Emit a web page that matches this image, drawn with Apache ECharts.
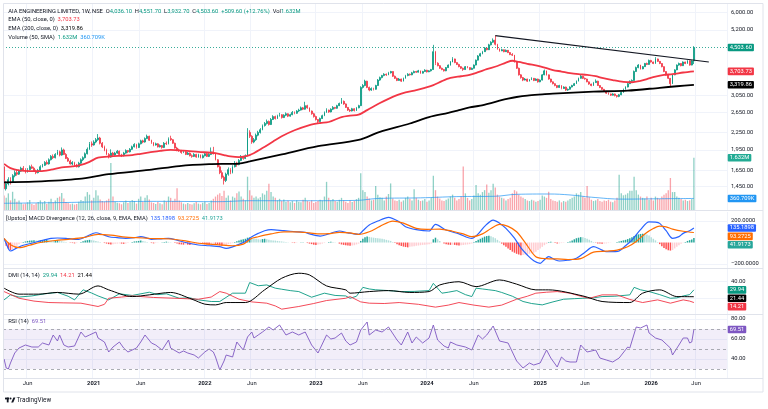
<!DOCTYPE html>
<html lang="en">

<head>
  <meta charset="UTF-8" />
  <title>AIA Engineering 1W</title>
  <script src="https://cdn.jsdelivr.net/npm/echarts@6/dist/echarts.min.js"></script>
</head>

<body style="margin:0;overflow:hidden;background:#fff;">
  <div id="panel" style="width:768px;height:409px;"></div>
  <script>
    // weekly bars, first one is the week of 16 Mar 2020
    var startDate = '2020-03-16';
    var totalWeeks = 339;
    var tickLabels = [[11, 'Jun'], [42, '2021'], [64, 'Jun'], [94, '2022'], [116, 'Jun'], [146, '2023'], [168, 'Jun'],
      [198, '2024'], [220, 'Jun'], [251, '2025'], [272, 'Jun'], [303, '2026'], [324, 'Jun']];

    // [open, high, low, close]
    var candles = [
      [1700,1735,1370,1420],[1420,1510,1400,1480],[1480,1560,1460,1530],[1530,1560,1470,1500],[1500,1600,1490,1580],
      [1580,1650,1560,1620],[1620,1660,1580,1600],[1600,1660,1590,1640],[1640,1700,1630,1680],[1680,1710,1640,1650],
      [1650,1680,1610,1630],[1630,1680,1620,1660],[1660,1720,1650,1700],[1700,1730,1670,1680],[1680,1700,1630,1640],
      [1640,1660,1600,1620],[1620,1670,1610,1650],[1650,1720,1640,1700],[1700,1740,1690,1720],[1720,1780,1710,1760],
      [1760,1790,1730,1740],[1740,1820,1730,1800],[1800,1870,1790,1850],[1850,1880,1810,1830],[1830,1900,1820,1880],
      [1880,1950,1870,1920],[1920,1940,1850,1870],[1870,1990,1860,1950],[1950,1970,1870,1880],[1880,1900,1810,1820],
      [1820,1840,1770,1780],[1780,1800,1730,1740],[1740,1780,1720,1760],[1760,1770,1710,1720],[1720,1740,1690,1700],
      [1700,1770,1690,1750],[1750,1820,1740,1800],[1800,1850,1780,1830],[1830,1910,1820,1890],[1890,1990,1880,1960],
      [1960,2080,1950,2050],[2050,2090,2000,2030],[2030,2110,2020,2080],[2080,2150,2060,2120],[2120,2220,2100,2150],
      [2150,2170,2040,2060],[2060,2080,1980,2000],[2000,2020,1930,1950],[1950,1970,1870,1880],[1880,1900,1820,1840],
      [1840,1960,1830,1900],[1900,1920,1850,1870],[1870,1920,1860,1900],[1900,1950,1890,1930],[1930,1940,1870,1880],
      [1880,1890,1840,1860],[1860,1920,1850,1900],[1900,1960,1890,1940],[1940,1950,1900,1920],[1920,1980,1910,1960],
      [1960,2020,1950,2000],[2000,2060,1990,2040],[2040,2050,1970,1990],[1990,2070,1980,2050],[2050,2120,2040,2100],
      [2100,2120,2060,2080],[2080,2160,2070,2140],[2140,2210,2130,2180],[2180,2190,2100,2110],[2110,2120,2050,2070],
      [2070,2080,2010,2030],[2030,2070,2020,2050],[2050,2060,1990,2000],[2000,2040,1990,2020],[2020,2030,1970,1990],
      [1990,2080,1980,2060],[2060,2090,2030,2050],[2050,2160,2040,2140],[2140,2190,2100,2120],[2120,2130,2050,2060],
      [2060,2070,1970,1980],[1980,2000,1930,1950],[1950,1970,1920,1940],[1940,1950,1890,1910],[1910,1940,1900,1920],
      [1920,1930,1870,1880],[1880,1920,1870,1900],[1900,1910,1850,1860],[1860,1880,1830,1850],[1850,1900,1840,1880],
      [1880,1890,1830,1840],[1840,1890,1830,1870],[1870,1880,1820,1830],[1830,1880,1820,1860],[1860,1910,1850,1890],
      [1890,1900,1840,1850],[1850,1900,1840,1880],[1880,1990,1870,1920],[1920,2000,1880,1890],[1890,1900,1790,1800],
      [1800,1810,1690,1700],[1700,1720,1600,1620],[1620,1650,1540,1560],[1560,1580,1470,1520],[1520,1620,1500,1600],
      [1600,1690,1580,1660],[1660,1680,1600,1620],[1620,1720,1610,1700],[1700,1780,1690,1750],[1750,1770,1700,1730],
      [1730,1810,1720,1790],[1790,1870,1780,1850],[1850,1860,1800,1820],[1820,1880,1810,1860],[1860,2330,1850,2250],
      [2250,2290,2150,2180],[2180,2200,2050,2080],[2080,2150,2060,2120],[2120,2230,2100,2200],[2200,2280,2180,2250],
      [2250,2330,2230,2300],[2300,2400,2290,2380],[2380,2450,2360,2420],[2420,2500,2400,2460],[2460,2480,2380,2400],
      [2400,2530,2390,2500],[2500,2590,2490,2560],[2560,2580,2500,2520],[2520,2600,2510,2580],[2580,2640,2560,2600],
      [2600,2610,2520,2540],[2540,2610,2530,2590],[2590,2650,2570,2620],[2620,2630,2550,2570],[2570,2620,2560,2600],
      [2600,2680,2590,2650],[2650,2670,2610,2630],[2630,2700,2620,2680],[2680,2730,2660,2700],[2700,2780,2690,2750],
      [2750,2770,2700,2720],[2720,2890,2710,2800],[2800,2820,2730,2750],[2750,2760,2660,2680],[2680,2690,2600,2620],
      [2620,2640,2540,2560],[2560,2580,2480,2500],[2500,2510,2430,2460],[2460,2540,2450,2520],[2520,2600,2510,2580],
      [2580,2670,2570,2650],[2650,2740,2640,2700],[2700,2710,2640,2660],[2660,2740,2650,2720],[2720,2790,2700,2760],
      [2760,2770,2720,2740],[2740,2820,2730,2800],[2800,2870,2790,2850],[2850,2980,2840,2900],[2900,2920,2820,2840],
      [2840,2850,2750,2760],[2760,2770,2680,2700],[2700,2720,2660,2680],[2680,2750,2670,2730],[2730,2740,2670,2690],
      [2690,2770,2680,2750],[2750,2820,2740,2800],[2800,3280,2790,3250],[3250,3340,3220,3300],[3300,3460,3280,3420],
      [3420,3430,3230,3250],[3250,3270,3150,3180],[3180,3250,3160,3220],[3220,3240,3170,3200],[3200,3320,3190,3300],
      [3300,3480,3290,3450],[3450,3550,3430,3520],[3520,3600,3500,3580],[3580,3650,3560,3620],[3620,3640,3570,3600],
      [3600,3690,3590,3660],[3660,3720,3640,3700],[3700,3710,3540,3560],[3560,3580,3480,3500],[3500,3520,3420,3440],
      [3440,3510,3430,3480],[3480,3490,3400,3420],[3420,3520,3410,3500],[3500,3600,3490,3580],[3580,3650,3560,3620],
      [3620,3640,3580,3600],[3600,3690,3590,3660],[3660,3730,3650,3700],[3700,3720,3660,3680],[3680,3750,3670,3720],
      [3720,3730,3630,3650],[3650,3720,3640,3700],[3700,3770,3690,3740],[3740,3750,3670,3690],[3690,3740,3680,3720],
      [3720,3780,3700,3760],[3760,4600,3750,4350],[4350,4380,3900,3960],[3960,3990,3860,3880],[3880,3900,3780,3800],
      [3800,3820,3740,3760],[3760,3780,3700,3720],[3720,3840,3710,3820],[3820,3920,3810,3900],[3900,4030,3880,4000],
      [4000,4160,3990,4100],[4100,4110,3960,3980],[3980,3990,3900,3920],[3920,3940,3830,3850],[3850,3870,3780,3800],
      [3800,3820,3720,3760],[3760,3870,3750,3850],[3850,3870,3800,3820],[3820,3830,3740,3760],[3760,3820,3750,3800],
      [3800,3920,3790,3900],[3900,4080,3890,4060],[4060,4230,4050,4200],[4200,4310,4180,4280],[4280,4380,4260,4350],
      [4350,4520,4340,4480],[4480,4500,4400,4420],[4420,4640,4410,4600],[4600,4740,4580,4700],[4700,4850,4680,4780],
      [4780,4960,4580,4620],[4620,4640,4420,4450],[4450,4470,4350,4380],[4380,4460,4370,4420],[4420,4430,4330,4350],
      [4350,4430,4340,4400],[4400,4410,4300,4320],[4320,4340,4230,4250],[4250,4300,4200,4230],[4230,4240,3980,4000],
      [4000,4020,3780,3800],[3800,3820,3580,3600],[3600,3620,3490,3520],[3520,3540,3420,3450],[3450,3510,3440,3480],
      [3480,3490,3400,3420],[3420,3480,3410,3460],[3460,3530,3450,3500],[3500,3510,3420,3440],[3440,3500,3430,3480],
      [3480,3490,3380,3400],[3400,3470,3390,3450],[3450,3620,3440,3600],[3600,3760,3590,3720],[3720,3730,3580,3600],
      [3600,3610,3460,3480],[3480,3490,3380,3400],[3400,3410,3330,3350],[3350,3360,3280,3300],[3300,3310,3230,3250],
      [3250,3320,3240,3300],[3300,3310,3200,3220],[3220,3280,3210,3260],[3260,3270,3160,3180],[3180,3220,3160,3200],
      [3200,3280,3190,3260],[3260,3320,3250,3300],[3300,3370,3290,3350],[3350,3440,3340,3420],[3420,3520,3410,3500],
      [3500,3620,3490,3560],[3560,3570,3480,3500],[3500,3520,3460,3480],[3480,3490,3390,3400],[3400,3410,3320,3340],
      [3340,3350,3280,3300],[3300,3400,3290,3380],[3380,3470,3370,3420],[3420,3430,3290,3300],[3300,3310,3230,3250],
      [3250,3260,3180,3200],[3200,3210,3130,3150],[3150,3160,3080,3100],[3100,3120,3060,3080],[3080,3090,3030,3050],
      [3050,3100,3040,3080],[3080,3090,3020,3040],[3040,3050,2990,3020],[3020,3080,3000,3060],[3060,3140,3050,3120],
      [3120,3220,3110,3200],[3200,3280,3190,3260],[3260,3370,3250,3350],[3350,3440,3340,3420],[3420,3470,3400,3440],
      [3440,3730,3430,3700],[3700,3850,3690,3820],[3820,3930,3800,3900],[3900,3910,3760,3780],[3780,3870,3770,3850],
      [3850,3970,3840,3950],[3950,3980,3900,3920],[3920,4080,3910,4050],[4050,4070,3980,4000],[4000,4010,3930,3950],
      [3950,4160,3940,4100],[4100,4110,4000,4020],[4020,4030,3930,3950],[3950,3960,3830,3850],[3850,3860,3680,3700],
      [3700,3710,3580,3600],[3600,3620,3480,3500],[3500,3510,3270,3350],[3350,3620,3340,3600],[3600,3770,3590,3750],
      [3750,3920,3740,3900],[3900,3980,3880,3950],[3950,3960,3860,3880],[3880,4020,3870,4000],[4000,4010,3930,3950],
      [3950,4060,3940,4040],[4040,4050,3880,3900],[3900,4060,3890,4036],[4036.1,4551.7,3932.7,4503.6]
    ];

    // weekly volume, thousands of shares
    var volumes = [
      450,380,520,300,570,350,260,300,220,180, 200,240,310,190,160,210,250,300,230,280,
      190,260,350,240,300,380,420,530,360,250, 220,180,200,170,190,260,310,280,420,560,
      480,300,380,620,450,330,280,260,300,350, 1470,420,260,230,210,180,240,300,220,260,
      310,280,200,350,420,260,380,460,330,240, 220,190,250,210,180,300,260,420,380,280,
      350,680,300,240,200,180,220,190,170,210, 250,200,180,230,260,190,220,300,350,420,
      480,520,440,600,380,450,300,420,380,520, 580,420,350,300,1040,620,450,380,420,360,
      400,520,480,600,820,560,420,380,300,350, 280,330,260,300,240,280,220,300,260,240,
      320,380,280,260,300,220,250,280,320,300, 420,880,380,300,340,280,260,320,380,300,
      260,220,300,250,280,340,380,1150,620,560, 420,360,300,320,750,480,400,380,300,420,
      500,830,360,300,280,320,260,300,380,420, 350,300,650,380,320,280,300,340,260,300,
      380,1070,620,420,360,300,280,320,360,420, 480,380,300,340,420,1360,520,380,300,340,
      450,780,520,480,560,620,800,540,620,820, 700,480,420,380,360,300,340,380,520,620,
      580,480,420,380,340,300,280,320,300,260, 280,320,450,420,380,570,340,300,280,260,
      300,240,280,260,300,340,380,420,520,480, 560,420,380,750,400,320,280,300,340,280,
      260,300,280,320,260,240,300,380,1100,520, 460,480,520,600,600,1040,620,480,420,380,
      360,420,320,380,300,420,380,340,420,480, 520,620,1000,560,560,420,380,340,300,320,
      280,300,340,1632
    ];
    var volSma = [[0, 210], [25, 230], [50, 260], [75, 270], [100, 260], [115, 290], [140, 290], [165, 300], [175, 360],
      [195, 380], [212, 418], [230, 430], [240, 490], [255, 500], [265, 470], [275, 400], [290, 340], [305, 350], [323, 360.709]];

    var ema50 = [[0, 1740], [3, 1680], [7, 1650], [12, 1640], [17, 1640], [22, 1660], [27, 1690], [32, 1705], [36, 1725],
      [40, 1770], [44, 1830], [50, 1850], [55, 1860], [60, 1870], [64, 1890], [68, 1910], [73, 1935], [78, 1950], [84, 1940],
      [91, 1920], [99, 1900], [103, 1870], [106, 1850], [110, 1840], [115, 1870], [121, 1980], [126, 2090], [130, 2180],
      [136, 2290], [143, 2390], [148, 2430], [152, 2450], [158, 2550], [162, 2580], [166, 2600], [170, 2700], [176, 2860],
      [180, 2960], [184, 3050], [188, 3120], [193, 3180], [197, 3240], [201, 3310], [205, 3420], [209, 3510], [214, 3560],
      [218, 3600], [222, 3680], [226, 3770], [231, 3870], [235, 3980], [238, 4040], [241, 4000], [245, 3940], [251, 3860],
      [257, 3746], [261, 3700], [265, 3650], [269, 3620], [273, 3600], [277, 3560], [280, 3510], [285, 3450], [290, 3400],
      [294, 3390], [298, 3430], [301, 3480], [305, 3550], [309, 3600], [313, 3620], [318, 3670], [323, 3703.73]];
    var ema200 = [[0, 1497], [14, 1505], [35, 1540], [49, 1600], [68, 1656], [82, 1710], [96, 1737], [110, 1745],
      [115, 1775], [129, 1872], [147, 2010], [166, 2115], [176, 2260], [190, 2420], [199, 2550], [208, 2640], [213, 2700],
      [218, 2760], [223, 2800], [228, 2860], [232, 2915], [236, 2965], [240, 3005], [245, 3040], [252, 3070], [257, 3090],
      [276, 3140], [292, 3165], [307, 3240], [315, 3280], [323, 3319.86]];
    var trendLine = [[230, 4960], [330, 4000]];

    var macdLine = [[0, 39], [1, -10], [3, -79], [6, -50], [9, -25], [13, -7], [17, 15], [22, 39], [25, 42], [29, 39],
      [32, 32], [35, 30], [39, 60], [43, 91], [46, 75], [49, 54], [53, 45], [57, 39], [61, 45], [64, 54], [67, 42], [69, 30],
      [73, 34], [77, 39], [81, 22], [85, 0], [91, -23], [96, -30], [101, -39], [104, -54], [107, -40], [110, -17], [113, 10],
      [116, 54], [119, 85], [122, 110], [125, 120], [131, 110], [137, 100], [141, 95], [143, 80], [148, 60], [152, 80],
      [157, 107], [161, 90], [166, 76], [168, 110], [171, 163], [175, 200], [180, 234], [185, 193], [188, 147], [193, 120],
      [199, 107], [202, 169], [207, 116], [213, 80], [219, 39], [222, 80], [225, 150], [229, 209], [232, 180], [235, 132],
      [239, 40], [242, -50], [245, -116], [248, -170], [251, -194], [253, -160], [255, -132], [258, -160], [260, -172],
      [264, -165], [268, -147], [272, -90], [276, -39], [279, -60], [282, -86], [286, -85], [288, -79], [291, -30],
      [294, 23], [298, 120], [302, 193], [305, 190], [307, 178], [310, 110], [313, 39], [316, 55], [318, 85], [321, 110],
      [323, 135.1898]];
    var signalLine = [[0, 39], [3, -20], [7, -48], [12, -25], [17, 0], [22, 14], [30, 30], [37, 45], [44, 76], [50, 68],
      [57, 50], [62, 45], [68, 39], [73, 36], [78, 33], [85, 15], [91, -7], [96, -15], [101, -23], [107, -30], [112, -15],
      [116, 39], [119, 54], [125, 80], [131, 100], [137, 100], [143, 90], [148, 80], [152, 82], [157, 95], [162, 90],
      [166, 76], [171, 100], [176, 150], [182, 200], [187, 180], [193, 132], [198, 122], [204, 125], [210, 105], [215, 80],
      [219, 54], [224, 80], [228, 130], [232, 169], [236, 150], [240, 100], [244, 0], [249, -132], [254, -150],
      [259, -153], [264, -158], [270, -150], [276, -90], [282, -80], [287, -70], [292, -39], [296, 10], [300, 80],
      [304, 130], [307, 152], [310, 145], [313, 125], [318, 105], [323, 93.2725]];
    var macdHist = [
      0,-30,-55,-70,-60,-45,-30,-15,-5,5, 10,15,18,20,22,20,18,20,22,25, 25,22,20,18,20,22,18,12,8,5,
      0,-3,-5,-8,-5,0,5,12,18,22, 25,22,18,15,10,5,0,-5,-10,-15, -18,-15,-12,-10,-8,-10,-12,-8,-5,0,
      5,10,12,15,18,15,10,5,0,-5, -8,-5,-2,0,3,5,8,6,3,0, -5,-10,-15,-18,-20,-18,-20,-22,-20,-18,
      -15,-12,-10,-12,-15,-18,-20,-15,-10,-12, -18,-25,-30,-28,-22,-15,-10,-5,5,12, 18,25,30,35,45,48,42,38,35,30,
      28,32,35,30,25,22,20,18,15,12, 10,8,5,3,0,-3,-5,-3,0,2, 3,0,-5,-10,-15,-20,-22,-18,-15,-10,
      -5,0,5,8,5,2,0,-10,-18,-22, -25,-28,-30,-28,-25,-18,-10,15,35,50, 55,52,48,45,42,40,38,35,30,25,
      20,15,5,-5,-15,-25,-32,-38,-42,-45, -40,-38,-35,-30,-28,-25,-22,-20,-18,-15, -10,30,45,30,15,0,-10,-15,-20,-22,
      -20,-22,-25,-28,-25,-22,-20,-18,-15,-10, 5,15,25,35,45,55,60,62,58,50, 40,25,10,-10,-25,-40,-55,-70,-85,-95,
      -105,-112,-118,-116,-112,-108,-104,-100,-95,-85, -70,-55,-40,-25,-12,5,8,2,-5,-10, -8,-5,-3,0,5,10,20,30,40,45,
      50,48,42,35,25,15,5,-3,-8,-10, -12,-10,-8,-5,-2,0,0,5,10,15, 20,25,32,40,50,60,70,76,80,82,
      80,75,65,50,35,20,5,-15,-35,-50, -62,-72,-75,-70,-55,-40,-25,-12,-3,5, 15,22,28,41.9173
    ];

    var plusDI = [[0, 17.5], [3, 23.7], [7, 21], [13, 22.4], [19, 25], [25, 26.7], [30, 22], [33, 17.5], [37, 30], [41, 26],
      [44, 22.4], [49, 17.5], [54, 25], [60, 23], [68, 27], [72, 24], [76, 25], [82, 19.5], [87, 20], [91, 17.5], [97, 15.5],
      [101, 15.5], [107, 25.8], [113, 25.8], [115, 39], [119, 35], [123, 36], [127, 32], [130, 30.7], [134, 29], [138, 27.8],
      [144, 20.8], [150, 25.8], [155, 23], [160, 22.4], [162, 19.5], [165, 22], [168, 33], [171, 31], [174, 30], [180, 29],
      [186, 27.8], [192, 28], [199, 29], [201, 38], [205, 25.8], [208, 27], [212, 29], [216, 24], [219, 21.6], [221, 32],
      [224, 31], [227, 30], [230, 29], [233, 26.7], [238, 22], [243, 15.5], [247, 13], [252, 11.3], [257, 15], [262, 18.3],
      [267, 19], [271, 19.5], [276, 20], [280, 21.6], [286, 22], [293, 23.7], [295, 33], [298, 30], [302, 27.8], [307, 24],
      [312, 19.5], [315, 20], [318, 22.4], [321, 24], [323, 29.94]];
    var minusDI = [[0, 27.8], [7, 19.5], [14, 16], [21, 14.2], [28, 13.8], [36, 13.4], [44, 9.3], [47, 12], [49, 19.5],
      [55, 21], [60, 22.4], [70, 20.5], [80, 19.5], [91, 18.3], [97, 21], [101, 27.8], [104, 25.8], [110, 18.3], [116, 15],
      [123, 13.4], [127, 10], [130, 6], [138, 9.3], [145, 13], [151, 16.7], [160, 19.5], [162, 21.6], [167, 15], [171, 13.4],
      [178, 13], [185, 14.2], [194, 12], [202, 8.5], [208, 11], [213, 14.2], [220, 11], [227, 8.5], [233, 11], [240, 18.3],
      [245, 22], [249, 25.8], [254, 27], [259, 27.8], [265, 25.8], [270, 22], [274, 19.5], [280, 23.7], [287, 23.7],
      [293, 18], [299, 14.2], [306, 17.5], [312, 13.4], [318, 17.5], [321, 16], [323, 14.21]];
    var adx = [[0, 32], [7, 24.6], [16, 24.6], [25, 26.7], [35, 24.6], [44, 34.8], [49, 29.9], [60, 21.6], [68, 23.7],
      [78, 26.7], [88, 18.3], [94, 12.2], [99, 11.3], [104, 14.2], [113, 14.2], [122, 29.9], [130, 44.3], [138, 50.5],
      [143, 48.4], [151, 34.8], [160, 29.9], [162, 25.8], [171, 27.8], [180, 29], [190, 26.7], [199, 27.8], [204, 36],
      [213, 40], [221, 33.9], [232, 42.2], [240, 37], [249, 29.9], [255, 29.9], [271, 22.4], [280, 15.5], [293, 14.2],
      [299, 25.8], [307, 29.9], [315, 21.6], [323, 21.44]];

    var rsi = [[0, 40], [1, 31], [2, 30], [3, 36], [5, 46], [7, 51], [10, 54], [13, 52], [16, 52], [18, 56], [21, 54],
      [23, 64], [25, 58], [26, 64], [28, 54], [30, 52], [33, 53], [36, 67], [38, 62], [40, 64], [43, 67], [44, 61], [47, 57],
      [49, 47], [51, 52], [54, 57], [56, 51], [58, 47], [62, 51], [64, 57], [66, 64], [69, 56], [71, 54], [74, 49], [77, 59],
      [78, 51], [82, 46], [84, 48], [86, 46], [89, 44], [91, 41], [94, 47], [96, 50], [98, 47], [99, 42], [101, 29],
      [103, 38], [104, 44], [107, 42], [109, 57], [112, 49], [114, 62], [116, 67], [117, 61], [119, 64], [121, 67],
      [124, 72], [126, 69], [129, 74], [132, 64], [135, 67], [138, 64], [141, 67], [144, 54], [147, 46], [149, 55],
      [151, 64], [153, 60], [155, 61], [158, 66], [160, 58], [162, 54], [165, 57], [167, 69], [170, 77], [171, 64],
      [174, 69], [177, 67], [180, 72], [184, 59], [186, 54], [189, 67], [191, 56], [193, 62], [196, 56], [199, 61],
      [201, 74], [203, 59], [206, 53], [208, 51], [209, 57], [212, 54], [216, 52], [219, 49], [222, 64], [224, 60],
      [226, 64], [229, 73], [232, 58], [236, 56], [238, 47], [240, 38], [243, 31], [246, 36], [248, 34], [251, 36],
      [254, 49], [256, 41], [259, 32], [261, 42], [263, 38], [265, 37], [268, 37], [270, 54], [273, 47], [277, 49],
      [279, 41], [282, 39], [285, 37], [288, 41], [292, 52], [293, 51], [296, 72], [298, 71], [301, 74], [302, 66],
      [305, 61], [308, 59], [310, 55], [312, 51], [313, 44], [316, 54], [318, 61], [320, 61], [321, 56], [322, 57],
      [323, 69.51]];

    var priceTicks = [1450, 1650, 1950, 2250, 2650, 3050, 5200, 6000];
    var macdTicks = [-200, 200];
    var dmiTicks = [20, 40];
    var rsiTicks = [40, 60, 80];

    var FONT = 'Roboto, "Noto Sans", sans-serif';
    var FS = 5.8;
    var TXT = '#131722';
    var UP = '#089981', DOWN = '#F23645';
    var GRIDLINE = '#f0f3fa';

    var categories = [];
    var t0 = Date.parse(startDate + 'T00:00:00Z');
    for (var i = 0; i < totalWeeks; i++) {
      categories.push(new Date(t0 + i * 7 * 86400000).toISOString().slice(0, 10));
    }
    var labelAt = {};
    tickLabels.forEach(function (t) { labelAt[t[0]] = t[1]; });
    function isLabel(idx) { return labelAt[idx] !== undefined; }

    var candleData = candles.map(function (r) { return [r[0], r[3], r[2], r[1]]; });
    var volData = volumes.map(function (v, k) {
      var up = candles[k][3] >= candles[k][0];
      return { value: v * 1000, itemStyle: { color: up ? 'rgba(8,153,129,0.45)' : 'rgba(242,54,69,0.45)' } };
    });
    var histData = macdHist.map(function (v, k) {
      var p = k > 0 ? macdHist[k - 1] : 0;
      var c = v >= 0 ? (v >= p ? '#26A69A' : '#B2DFDB') : (v < p ? '#FF5252' : '#FFCDD2');
      return { value: v, itemStyle: { color: c } };
    });

    function xAx(g, labels) {
      return {
        type: 'category', gridIndex: g, data: categories, boundaryGap: true,
        axisLine: { show: false }, axisTick: { show: false },
        axisLabel: {
          show: labels, interval: isLabel, margin: 3, fontSize: FS, color: TXT, fontFamily: FONT,
          formatter: function (v, idx) {
            var s = labelAt[idx];
            return /^\d/.test(s) ? '{y|' + s + '}' : s;
          },
          rich: { y: { fontWeight: 'bold', fontSize: FS, color: TXT, fontFamily: FONT } }
        },
        splitLine: { show: g !== 1, interval: isLabel, lineStyle: { color: GRIDLINE, width: 1 } }
      };
    }
    function yAx(g, opts) {
      var ax = {
        gridIndex: g, position: 'right', axisLine: { show: false },
        axisTick: { show: false, customValues: opts.ticks },
        axisLabel: {
          customValues: opts.ticks, margin: 4, fontSize: FS, color: TXT, fontFamily: FONT,
          formatter: opts.fmt
        },
        splitLine: { show: true, lineStyle: { color: GRIDLINE, width: 1 } },
        min: opts.min, max: opts.max
      };
      if (opts.log) { ax.type = 'log'; ax.logBase = 10; } else { ax.type = 'value'; }
      return ax;
    }
    function fmt(dec) {
      return function (v) {
        var s = Math.abs(v).toLocaleString('en-US', { minimumFractionDigits: dec, maximumFractionDigits: dec });
        return (v < 0 ? '\u2212' : '') + s;
      };
    }
    function lineSeries(xi, data, color, width, smooth) {
      return {
        type: 'line', xAxisIndex: xi, yAxisIndex: xi, data: data, showSymbol: false, silent: true,
        smooth: smooth, lineStyle: { color: color, width: width }, z: 3
      };
    }

    var myChart = echarts.init(document.getElementById('panel'));
    var L = 3, R = 41;

    var option = {
      animation: false,
      backgroundColor: '#ffffff',
      grid: [
        { left: L, right: R, top: 3, height: 207 },
        { left: L, right: R, top: 130, height: 80 },
        { left: L, right: R, top: 212, height: 56 },
        { left: L, right: R, top: 268, height: 46 },
        { left: L, right: R, top: 314, height: 64 }
      ],
      xAxis: [xAx(0, false), xAx(1, false), xAx(2, false), xAx(3, false), xAx(4, true)],
      yAxis: [
        yAx(0, { log: true, ticks: priceTicks, min: 1194, max: 6475, fmt: fmt(2) }),
        { type: 'value', gridIndex: 1, min: 0, max: 2500000, show: false },
        yAx(2, { ticks: macdTicks, min: -237, max: 284, fmt: fmt(4) }),
        yAx(3, { ticks: dmiTicks, min: 0, max: 57, fmt: fmt(2) }),
        yAx(4, { ticks: rsiTicks, min: 21, max: 85, fmt: fmt(2) })
      ],
      series: [
        { type: 'bar', xAxisIndex: 1, yAxisIndex: 1, data: volData, barWidth: '62%', silent: true, z: 1 },
        Object.assign(lineSeries(1, volSma.map(function (p) { return [p[0], p[1] * 1000]; }), 'rgba(33,150,243,0.7)', 1, 0.4), { z: 2 }),
        {
          type: 'candlestick', xAxisIndex: 0, yAxisIndex: 0, data: candleData, barWidth: '62%', silent: true, z: 4,
          itemStyle: { color: UP, color0: DOWN, borderColor: UP, borderColor0: DOWN, borderWidth: 0.8 },
          markLine: {
            symbol: 'none', silent: true, label: { show: false },
            lineStyle: { color: UP, type: [1, 2], width: 1, opacity: 0.8 },
            data: [{ yAxis: 4503.6 }]
          }
        },
        Object.assign(lineSeries(0, ema50, '#F23645', 1.8, 0.3), { z: 5 }),
        Object.assign(lineSeries(0, ema200, '#000000', 1.8, 0.3), { z: 5 }),
        Object.assign(lineSeries(0, trendLine, '#131722', 1.1, false), { z: 6 }),
        { type: 'bar', xAxisIndex: 2, yAxisIndex: 2, data: histData, barWidth: '70%', silent: true },
        lineSeries(2, macdLine, '#2962FF', 1.2, 0.3),
        lineSeries(2, signalLine, '#FF6D00', 1.2, 0.3),
        lineSeries(3, plusDI, '#089981', 0.9, false),
        lineSeries(3, minusDI, '#F23645', 0.9, false),
        lineSeries(3, adx, '#000000', 1, 0.3),
        Object.assign(lineSeries(4, rsi, '#7E57C2', 0.9, false), {
          markArea: { silent: true, itemStyle: { color: 'rgba(126,87,194,0.1)' }, data: [[{ yAxis: 30 }, { yAxis: 70 }]] },
          markLine: {
            symbol: 'none', silent: true, label: { show: false },
            lineStyle: { color: '#9598a1', type: [3, 3], width: 0.8 },
            data: [{ yAxis: 30 }, { yAxis: 50 }, { yAxis: 70 }]
          }
        })
      ]
    };
    myChart.setOption(option);

    // value tags on the right scale
    function tagGroup(items) {
      items.forEach(function (t) { t.y = myChart.convertToPixel({ yAxisIndex: t.axis }, t.value); });
      items.sort(function (a, b) { return a.y - b.y; });
      for (var k = 1; k < items.length; k++) {
        if (items[k].y - items[k - 1].y < 8.4) items[k].y = items[k - 1].y + 8.4;
      }
      return items.map(function (t) {
        return {
          type: 'text', x: 727.7, y: t.y, z: 100,
          style: {
            text: t.text, fill: '#ffffff', fontSize: FS, fontFamily: FONT, verticalAlign: 'middle',
            backgroundColor: t.color, padding: [1, 2, 0.6, 2], borderRadius: 1
          }
        };
      });
    }
    var tags = [].concat(
      tagGroup([{ axis: 0, value: 4503.6, text: '4,503.60', color: '#089981' },
        { axis: 0, value: 3703.73, text: '3,703.73', color: '#F23645' },
        { axis: 0, value: 3319.86, text: '3,319.86', color: '#000000' }]),
      tagGroup([{ axis: 1, value: 1632000, text: '1.632M', color: '#22AB94' },
        { axis: 1, value: 360709, text: '360.709K', color: '#2196F3' }]),
      tagGroup([{ axis: 2, value: 135.1898, text: '135.1898', color: '#2962FF' },
        { axis: 2, value: 93.2725, text: '93.2725', color: '#FF6D00' },
        { axis: 2, value: 41.9173, text: '41.9173', color: '#26A69A' }]),
      tagGroup([{ axis: 3, value: 29.94, text: '29.94', color: '#089981' },
        { axis: 3, value: 21.44, text: '21.44', color: '#000000' },
        { axis: 3, value: 14.21, text: '14.21', color: '#F23645' }]),
      tagGroup([{ axis: 4, value: 69.51, text: '69.51', color: '#7E57C2' }])
    );

    function legend(x, y, text, rich) {
      return {
        type: 'text', x: x, y: y, z: 100,
        style: { text: text, fill: TXT, fontSize: FS, fontFamily: FONT, verticalAlign: 'middle', rich: rich }
      };
    }
    var rich = {
      t: { fill: TXT, fontSize: FS, fontFamily: FONT },
      g: { fill: '#089981', fontSize: FS, fontFamily: FONT },
      r: { fill: '#F23645', fontSize: FS, fontFamily: FONT },
      k: { fill: '#000000', fontSize: FS, fontFamily: FONT },
      b: { fill: '#2196F3', fontSize: FS, fontFamily: FONT },
      mb: { fill: '#2962FF', fontSize: FS, fontFamily: FONT },
      mo: { fill: '#FF6D00', fontSize: FS, fontFamily: FONT },
      mt: { fill: '#26A69A', fontSize: FS, fontFamily: FONT },
      p: { fill: '#7E57C2', fontSize: FS, fontFamily: FONT }
    };
    function hline(y) {
      return { type: 'line', z: 90, shape: { x1: 3, y1: y, x2: 763, y2: y }, style: { stroke: '#e0e3eb', lineWidth: 1 } };
    }

    var graphics = [
      { type: 'rect', z: 90, shape: { x: 3.5, y: 3.5, width: 759.5, height: 388.5 }, style: { fill: 'none', stroke: '#e0e3eb', lineWidth: 1 } },
      hline(210.5), hline(268.5), hline(314.5), hline(378.5),
      legend(8.3, 11.7, '{t|AIA ENGINEERING LIMITED, 1W, NSE}  {t|O}{g|4,036.10}  {t|H}{g|4,551.70}  {t|L}{g|3,932.70}  {t|C}{g|4,503.60}  {g|+509.60 (+12.76%)}  {t|Vol}{g|1.632M}', rich),
      legend(8.3, 20, '{t|EMA (50, close, 0)}  {r|3,703.73}', rich),
      legend(8.3, 28.5, '{t|EMA (200, close, 0)}  {k|3,319.86}', rich),
      legend(8.3, 37.3, '{t|Volume (50, SMA)}  {g|1.632M}  {b|360.709K}', rich),
      legend(6, 219, '{t|[Upstox] MACD Divergence (12, 26, close, 9, EMA, EMA)}  {mb|135.1898}  {mo|93.2725}  {mt|41.9173}', rich),
      legend(8.3, 275.7, '{t|DMI (14, 14)}  {g|29.94}  {r|14.21}  {k|21.44}', rich),
      legend(8.3, 322, '{t|RSI (14)}  {p|69.51}', rich),
      // TradingView mark
      { type: 'rect', z: 100, shape: { x: 5, y: 397.6, width: 4.2, height: 1.8 }, style: { fill: TXT } },
      { type: 'rect', z: 100, shape: { x: 6.8, y: 397.6, width: 1.8, height: 4.8 }, style: { fill: TXT } },
      { type: 'circle', z: 100, shape: { cx: 10.6, cy: 398.5, r: 0.9 }, style: { fill: TXT } },
      { type: 'polygon', z: 100, shape: { points: [[11.2, 402.4], [13.4, 397.6], [15.4, 397.6], [13.2, 402.4]] }, style: { fill: TXT } },
      { type: 'text', x: 16.5, y: 400, z: 100, style: { text: 'TradingView', fill: TXT, fontSize: 6.3, fontFamily: FONT, verticalAlign: 'middle' } }
    ].concat(tags);

    myChart.setOption({ graphic: graphics });

    window.addEventListener('resize', function () {
      myChart.resize();
    });
  </script>
</body>

</html>
